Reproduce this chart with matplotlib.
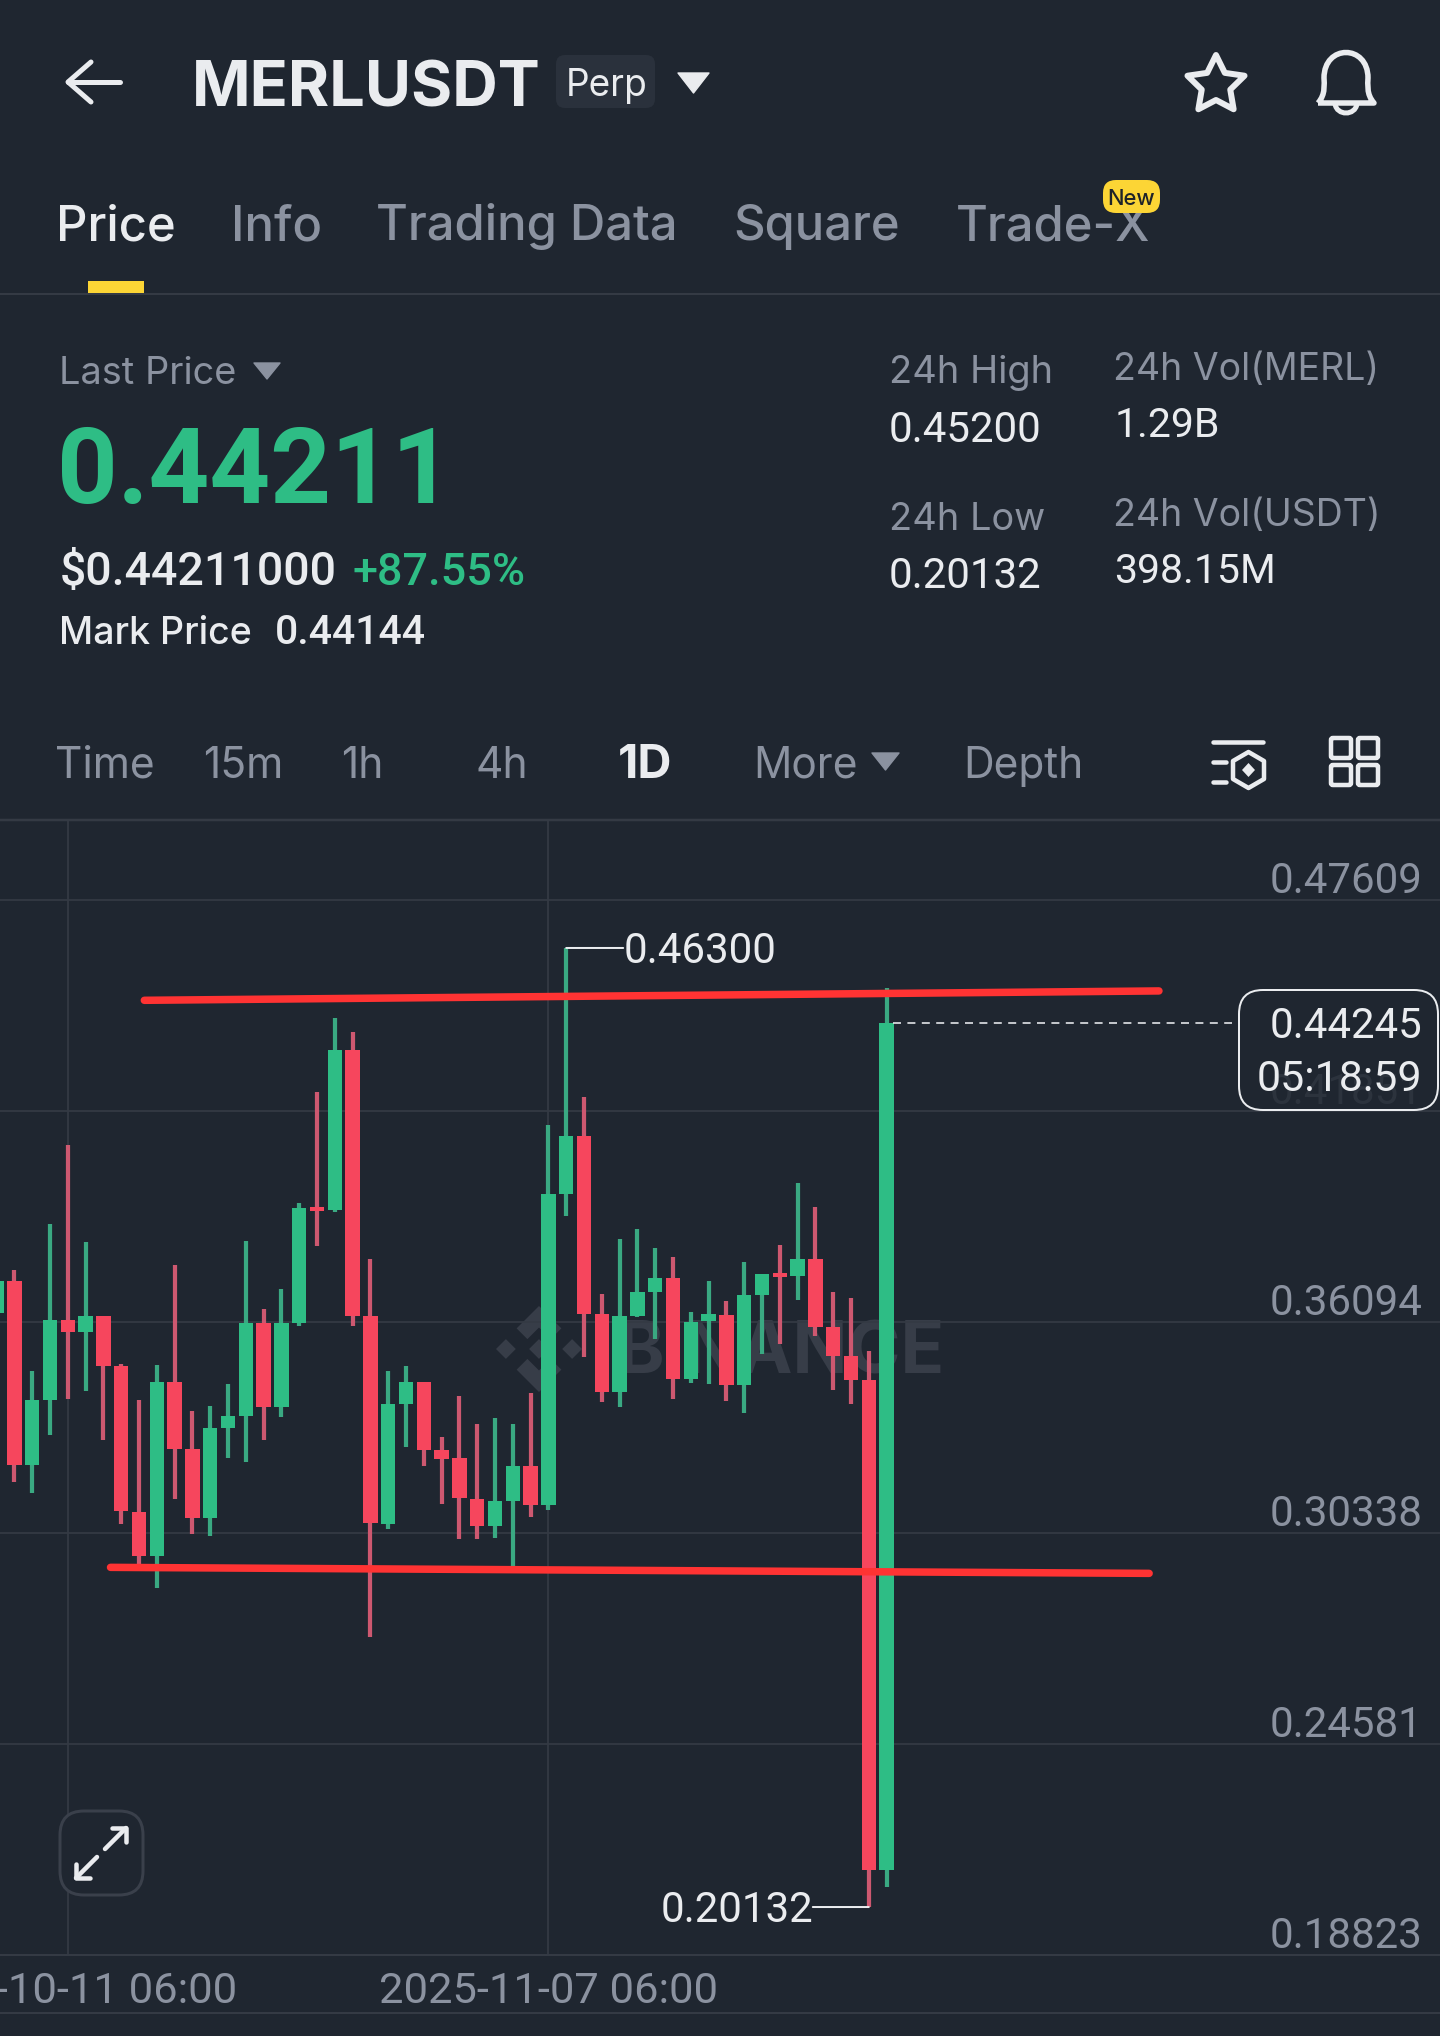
import numpy as np
import matplotlib
matplotlib.use("Agg")
import matplotlib.pyplot as plt
from matplotlib.patches import FancyBboxPatch, Polygon, PathPatch
from matplotlib.path import Path

W, H = 1440, 2036
BG = "#1f2630"
GRID = "#343a44"
GREEN = "#2ebd85"
RED = "#f6465d"
WICK_G = "#3aa982"
WICK_R = "#cd5870"
GRAY = "#8b92a0"
WHITE = "#eaecef"
FONT = "Inter"
NUM = "Roboto"  # tabular digits

# daily candles, left to right
opens = [.36351, .37217, .32192, .33960, .36144, .35826, .36253, .34900, .30924, .29704, .34448, .32619,
         .30741, .33192, .33521, .36070, .33777, .36070, .39217, .39156, .43510, .36265, .30594, .33851,
         .34460, .32594, .32375, .31277, .30521, .31216, .32168, .31094, .39583, .41168, .36326, .34192,
         .36253, .36912, .37290, .34546, .36119, .36290, .34387, .36839, .37400, .37339, .37814, .35948,
         .35168, .34521, .21143]
highs = [.37410, .37509, .34753, .38766, .40912, .38278, .36253, .34936, .33973, .34912, .37644, .33656,
         .33790, .34412, .38302, .36448, .36985, .39351, .42376, .44400, .44010, .37814, .34753, .34887,
         .34460, .32948, .34070, .33302, .33485, .33302, .34156, .41461, .46300, .42229, .36863, .38363,
         .38631, .38107, .37863, .36375, .37217, .36656, .37729, .37412, .38205, .39900, .39241, .36900,
         .36741, .35314, .45200]
lows = [.36130, .31716, .31424, .33021, .33997, .34217, .32875, .30594, .29424, .28838, .31277, .30302,
        .30265, .32375, .32265, .32863, .33509, .35973, .38156, .39107, .35985, .27509, .30436, .32692,
        .32168, .31119, .30180, .30180, .30204, .29424, .30765, .30960, .38997, .35131, .33912, .33777,
        .36229, .35643, .33997, .34424, .34412, .33936, .33607, .35229, .35497, .36705, .35704, .34241,
        .33851, .20132, .20678]
closes = [.37217, .32204, .33960, .36144, .35826, .36253, .34900, .30936, .29716, .34448, .32619, .30741,
          .33192, .33521, .36070, .33777, .36070, .39205, .39119, .43510, .36265, .30607, .33851, .34460,
          .32594, .32351, .31290, .30521, .31216, .32168, .31094, .39583, .41168, .36326, .34192, .36253,
          .36900, .37290, .34546, .36107, .36302, .34387, .36839, .37412, .37314, .37814, .35948, .35168,
          .34521, .21143, .44245]

price_ticks = [.47609, .41851, .36094, .30338, .24581, .18823]
date_ticks = [4, 31]
date_labels = ["2025-10-11 06:00", "2025-11-07 06:00"]

# hand drawn support / resistance, (candle position, price)
resistance = ([8.3, 65.3], [.44872, .45128])
support = ([6.4, 64.75], [.29400, .29236])

last_price = "0.44211"
day_high, day_low = "0.45200", "0.20132"
vol_base, vol_quote = "1.29B", "398.15M"
tabs = [("Price", 56), ("Info", 231), ("Trading Data", 376), ("Square", 733), ("Trade-X", 956)]
intervals = [("Time", 55), ("15m", 203), ("1h", 341), ("4h", 475), ("More", 753), ("Depth", 963)]


def px(size):
    return size * 0.72


fig = plt.figure(figsize=(W / 100, H / 100), dpi=100, facecolor=BG)


def overlay(z):
    a = fig.add_axes([0, 0, 1, 1], zorder=z)
    a.set_xlim(0, W)
    a.set_ylim(H, 0)
    a.axis("off")
    return a


back = overlay(0)
top = overlay(2)


def label(x, y, s, size, color=WHITE, weight="normal", ha="left", target=None, font=FONT):
    (target or back).text(x, y, s, fontsize=px(size), color=color, fontweight=weight, ha=ha,
                          va="baseline", family=font)


def stroke(xs, ys, lw=5, color=WHITE, target=None):
    (target or back).plot(xs, ys, color=color, lw=px(lw), solid_capstyle="round", solid_joinstyle="round")


def rbox(x0, y0, x1, y1, r, fc="none", ec="none", lw=0, alpha=None, target=None):
    p = FancyBboxPatch((x0, y0), x1 - x0, y1 - y0, boxstyle=f"round,pad=0,rounding_size={r}",
                       fc=fc, ec=ec, lw=px(lw), alpha=alpha)
    (target or back).add_patch(p)


def tri(x0, x1, y0, y1, color):
    back.add_patch(Polygon([(x0, y0), (x1, y0), ((x0 + x1) / 2, y1)], fc=color, ec=color, lw=1, joinstyle="round"))


# header
stroke([68, 120], [82, 82])
stroke([91, 68, 91], [62, 82, 102])
label(192, 106, "MERLUSDT", 63, weight="bold")
rbox(556, 55, 655, 108, 9, fc="#2a313c")
label(566, 96, "Perp", 37)
tri(678, 709, 73, 93, WHITE)

ang = np.pi / 2 + np.arange(10) * np.pi / 5
rad = np.where(np.arange(10) % 2 == 0, 30, 15)
back.add_patch(Polygon(np.c_[1216 + rad * np.cos(ang), 85 - rad * np.sin(ang)], fc="none", ec=WHITE,
                       lw=px(6), joinstyle="round"))

bell = Path([(1318, 103), (1326, 94), (1324, 84), (1324, 78), (1324, 44), (1368, 44), (1368, 78),
             (1368, 84), (1366, 94), (1374, 103), (1318, 103)],
            [Path.MOVETO, Path.CURVE4, Path.CURVE4, Path.CURVE4, Path.CURVE4, Path.CURVE4, Path.CURVE4,
             Path.CURVE4, Path.CURVE4, Path.CURVE4, Path.LINETO])
back.add_patch(PathPatch(bell, fc="none", ec=WHITE, lw=px(5.5), joinstyle="round"))
clapper = Path([(1335, 104), (1337, 116), (1355, 116), (1357, 104)], [Path.MOVETO, Path.CURVE4, Path.CURVE4, Path.CURVE4])
back.add_patch(PathPatch(clapper, fc="none", ec=WHITE, lw=px(5)))

# tabs
for i, (name, x) in enumerate(tabs):
    label(x, 240, name, 49, color=WHITE if i == 0 else GRAY, weight="medium")
back.plot([0, W], [294, 294], color=GRID, lw=px(2))
back.add_patch(plt.Rectangle((88, 281), 56, 12, fc="#fcd535", ec="none"))
rbox(1103, 180, 1160, 213, 13, fc="#fcd535", target=top)
label(1131.5, 205, "New", 22, color="#1e2329", weight="medium", ha="center", target=top)

# price block
label(59, 384, "Last Price", 38, color=GRAY)
tri(254, 280, 363, 379, GRAY)
label(57, 503, last_price, 106, color=GREEN, weight="bold", font=NUM)
label(60, 585, "$0.44211000", 46.5, weight="medium", font=NUM)
label(353, 585, "+87.55%", 45, color=GREEN, weight="medium", font=NUM)
label(59, 644, "Mark Price", 37.5, weight="medium")
label(275, 644, "0.44144", 41, weight="medium", font=NUM)

label(889, 383, "24h High", 38, color=GRAY)
label(889, 442, day_high, 42, font=NUM)
label(889, 530, "24h Low", 38, color=GRAY)
label(889, 588, day_low, 42, font=NUM)
label(1113, 380, "24h Vol(MERL)", 37.5, color=GRAY)
label(1115, 437, vol_base, 41, font=NUM)
label(1113, 526, "24h Vol(USDT)", 37.5, color=GRAY)
label(1114, 583, vol_quote, 41, font=NUM)

# interval row
for name, x in intervals:
    label(x, 778, name, 42.5, color=GRAY)
label(618, 778, "1D", 47, weight="bold")
tri(872, 899, 753, 770, GRAY)

stroke([1213, 1263], [742, 742], lw=4.5)
stroke([1213, 1226], [762, 762], lw=4.5)
stroke([1213, 1226], [782, 782], lw=4.5)
back.add_patch(Polygon([(1248.5, 752), (1264, 761), (1264, 779), (1248.5, 788), (1233, 779), (1233, 761)],
                       fc="none", ec=WHITE, lw=px(4.5), joinstyle="round"))
back.add_patch(Polygon([(1248.5, 763), (1255, 770), (1248.5, 777), (1242, 770)], fc=WHITE, ec="none"))
for x0 in (1331, 1358):
    for y0 in (738, 765):
        rbox(x0, y0, x0 + 20, y0 + 20, 2, ec=WHITE, lw=4.5)

back.plot([0, W], [820, 820], color=GRID, lw=px(2.5))
back.plot([0, W], [2013, 2013], color=GRID, lw=px(2))

# watermark under the candles
WM = "#373d48"
cx, cy = 539, 1349
for pts in ([(0, 1), (.52, .48), (.27, .23), (0, .5), (-.27, .23), (-.52, .48)],
            [(0, -1), (.52, -.48), (.27, -.23), (0, -.5), (-.27, -.23), (-.52, -.48)],
            [(0, .23), (.23, 0), (0, -.23), (-.23, 0)],
            [(.77, .23), (1, 0), (.77, -.23), (.54, 0)],
            [(-.77, .23), (-.54, 0), (-.77, -.23), (-1, 0)]):
    back.add_patch(Polygon([(cx + a * 43, cy - b * 43) for a, b in pts], fc=WM, ec="none"))
label(616, 1374, "BINANCE", 72, color=WM, weight="bold")

# chart
CH_TOP, CH_BOT = 820, 1955
step = 17.8
x0_px = -3.4
ax = fig.add_axes([0, 1 - CH_BOT / H, 1, (CH_BOT - CH_TOP) / H], zorder=1)
ax.patch.set_alpha(0)
ax.set_xlim(-x0_px / step, (W - x0_px) / step)
ax.set_ylim(price_ticks[-1], price_ticks[0] + 80 * (price_ticks[0] - price_ticks[-1]) / 1055)
for s in ax.spines.values():
    s.set_visible(False)
ax.spines["bottom"].set_visible(True)
ax.spines["bottom"].set_color(GRID)
ax.spines["bottom"].set_linewidth(px(2))
ax.set_yticks(price_ticks)
ax.set_yticklabels([])
ax.set_xticks(date_ticks)
ax.set_xticklabels(date_labels, fontsize=px(43.5), color=GRAY, family=NUM)
ax.tick_params(length=0, pad=px(16))
ax.grid(True, color=GRID, lw=px(1.8))
ax.set_axisbelow(True)

xs = np.arange(len(opens))
o, h, l, c = map(np.array, (opens, highs, lows, closes))
up = c >= o
ax.vlines(xs, l, h, colors=np.where(up, WICK_G, WICK_R), lw=px(4.2), zorder=3)
ax.bar(xs, np.maximum(np.abs(c - o), 0.0012), bottom=np.minimum(o, c), width=0.8,
       color=np.where(up, GREEN, RED), zorder=4)

ax.plot(*resistance, color="#ff3333", lw=px(7.5), solid_capstyle="round", zorder=6)
ax.plot(*support, color="#ff3333", lw=px(7.5), solid_capstyle="round", zorder=6)

for p in price_ticks:
    ax.annotate(f"{p:.5f}", xy=(1, p), xycoords=ax.get_yaxis_transform(), xytext=(px(-18), px(7)),
                textcoords="offset points", ha="right", va="baseline", fontsize=px(42), color=GRAY, family=NUM)

# extreme markers
hi_i, lo_i = int(np.argmax(h)), int(np.argmin(l))
for i, val, dx, ha in ((hi_i, h[hi_i], 57, "left"), (lo_i, l[lo_i], -56, "right")):
    ax.annotate("", xy=(i, val), xytext=(px(dx), 0), textcoords="offset points",
                arrowprops=dict(arrowstyle="-", color=WHITE, lw=px(2), shrinkA=0, shrinkB=0), zorder=7)
    ax.annotate(f"{val:.5f}", xy=(i, val), xytext=(px(dx + (0 if dx > 0 else 0)), px(-15)), textcoords="offset points",
                ha=ha, va="baseline", fontsize=px(42), color=WHITE, family=NUM, zorder=7)

# last price line and countdown tag
ax.plot([50.36, 69.4], [c[-1], c[-1]], color=WHITE, lw=px(1.6), dashes=(5, 4), zorder=5)
rbox(1239, 990, 1438, 1110, 24, fc=BG, ec="none", alpha=0.88, target=top)
rbox(1239, 990, 1438, 1110, 24, ec=WHITE, lw=2, target=top)
label(1422, 1038, f"{c[-1]:.5f}", 42, ha="right", target=top, font=NUM)
label(1422, 1091, "05:18:59", 43, ha="right", target=top, font=NUM)

# fullscreen button
rbox(60, 1811, 143, 1895, 24, fc=BG, ec="#3a404b", lw=3, target=top)
stroke([105, 126], [1849, 1828], lw=4.5, target=top)
stroke([112, 126, 126], [1828, 1828, 1842], lw=4.5, target=top)
stroke([97, 76], [1857, 1878], lw=4.5, target=top)
stroke([76, 76, 90], [1864, 1878, 1878], lw=4.5, target=top)

fig.savefig("out.png", dpi=100, facecolor=BG)
